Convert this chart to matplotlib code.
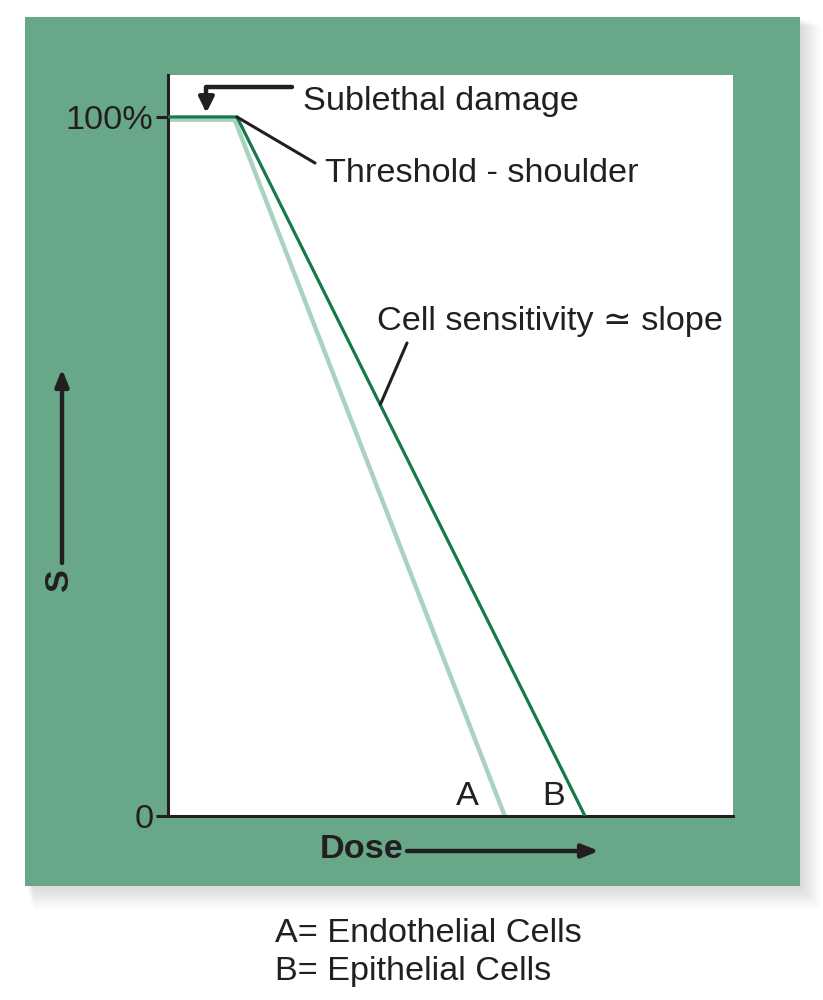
import matplotlib
matplotlib.use("Agg")
import matplotlib.pyplot as plt
from matplotlib.patches import Rectangle

plt.rcParams['font.family'] = ['Liberation Sans', 'DejaVu Sans']

# survival curves (dose in arbitrary units, survival in %)
dose_a = [0, 1.18, 5.96]
surv_a = [99.6, 99.6, 0]
dose_b = [0, 1.22, 7.38]
surv_b = [100, 100, 0]
ytick_vals = [0, 100]
ytick_labels = ["0", "100%"]
legend_lines = ["A= Endothelial Cells", "B= Epithelial Cells"]

green_bg = "#68a889"
dark_green = "#17794a"
light_green = "#a9d3bf"
ink = "#231f20"
fs = 24.7

fig = plt.figure(figsize=(8.23, 10), dpi=100)
bg = fig.add_axes([0, 0, 1, 1], zorder=0)
bg.set_xlim(0, 823)
bg.set_ylim(1000, 0)
bg.axis("off")

# soft shadow behind the green panel
for i in range(12):
    bg.add_patch(Rectangle((25 + 2 + i * 0.6, 17 + 2 + i * 0.6), 775 + i * 1.1, 869 + i * 1.3,
                           facecolor="#000000", alpha=0.012, lw=0, zorder=0))
bg.add_patch(Rectangle((25, 17), 775, 869, facecolor=green_bg, lw=0, zorder=1))

# plot area
ax = fig.add_axes([168 / 823, 184 / 1000, 565 / 823, 741 / 1000], zorder=1)
ax.set_facecolor("white")
ax.set_xlim(0, 10)
ax.set_ylim(0, 106)
ax.plot(dose_a, surv_a, color=light_green, lw=3.2, solid_capstyle="butt", zorder=2)
ax.plot(dose_b, surv_b, color=dark_green, lw=2.3, solid_capstyle="butt", zorder=3)

for s in ["top", "right"]:
    ax.spines[s].set_visible(False)
for s in ["left", "bottom"]:
    ax.spines[s].set_linewidth(2.2)
    ax.spines[s].set_color(ink)
ax.set_xticks([])
ax.set_yticks(ytick_vals)
ax.set_yticklabels(ytick_labels)
ax.tick_params(axis="y", length=8.5, width=2.2, color=ink, pad=2, labelsize=fs, labelcolor=ink)

# overlay for text and arrows in pixel coordinates
top = fig.add_axes([0, 0, 1, 1], zorder=2)
top.set_xlim(0, 823)
top.set_ylim(1000, 0)
top.axis("off")
top.patch.set_alpha(0)

lead = dict(arrowstyle="-", color=ink, lw=2.2, shrinkA=0, shrinkB=0)

# sublethal damage elbow arrow
ax.annotate("", xy=(0.68, 100.6), xycoords="data", xytext=(292, 87), textcoords=top.transData,
            arrowprops=dict(arrowstyle="-|>,head_length=0.9,head_width=0.45", color=ink, lw=3.2,
                            connectionstyle="angle,angleA=0,angleB=90,rad=0", shrinkA=0, shrinkB=0))
top.text(303, 110, "Sublethal damage", fontsize=fs, color=ink, ha="left", va="baseline")

# threshold leader
ax.annotate("", xy=(dose_b[1], surv_b[1]), xycoords="data", xytext=(315, 163),
            textcoords=top.transData, arrowprops=lead)
top.text(325, 182, "Threshold - shoulder", fontsize=fs, color=ink, ha="left", va="baseline")

# slope leader
ax.annotate("", xy=(3.76, 58.9), xycoords="data", xytext=(407, 343),
            textcoords=top.transData, arrowprops=lead)
top.text(377, 330, "Cell sensitivity \u2243 slope", fontsize=fs, color=ink, ha="left", va="baseline")

# curve labels
ax.text(5.3, 1.6, "A", fontsize=fs, color=ink, ha="center", va="baseline")
ax.text(6.82, 1.6, "B", fontsize=fs, color=ink, ha="center", va="baseline")

# axis titles with arrows
top.text(404, 858, "Dose", fontsize=fs, fontweight="bold", color=ink, ha="right", va="baseline")
top.annotate("", xy=(599, 851), xytext=(407, 851),
             arrowprops=dict(arrowstyle="-|>,head_length=1.0,head_width=0.4", color=ink, lw=3.2,
                             shrinkA=0, shrinkB=0))
top.text(59, 580, "S", fontsize=fs, fontweight="bold", color=ink, rotation=90, ha="center", va="center")
top.annotate("", xy=(62, 369), xytext=(62, 563),
             arrowprops=dict(arrowstyle="-|>,head_length=1.0,head_width=0.4", color=ink, lw=3.2,
                             shrinkA=0, shrinkB=0))

top.text(275, 942, legend_lines[0], fontsize=fs, color=ink, ha="left", va="baseline")
top.text(275, 980, legend_lines[1], fontsize=fs, color=ink, ha="left", va="baseline")

fig.savefig("out.png", dpi=100)
